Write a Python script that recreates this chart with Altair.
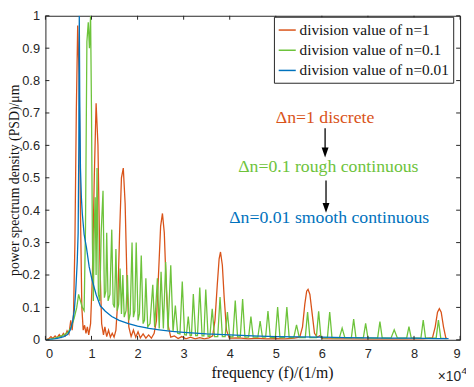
import altair as alt
import pandas as pd

# ---------------- data (x in units of 10^4 1/m) ----------------
orange_x = [0.00, 0.08, 0.12, 0.16, 0.21, 0.25, 0.30, 0.34, 0.39, 0.43, 0.47, 0.51, 0.55, 0.58, 0.61,
            0.64, 0.67, 0.70, 0.73, 0.76, 0.79, 0.82, 0.85, 0.88, 0.91, 0.94, 0.98, 1.02, 1.06, 1.10,
            1.14, 1.18, 1.22, 1.26, 1.29, 1.33, 1.37, 1.41, 1.45, 1.49, 1.53, 1.57, 1.61, 1.65, 1.69,
            1.73, 1.77, 1.81, 1.86, 1.91, 1.96, 2.01, 2.06, 2.12, 2.18, 2.24, 2.30, 2.36, 2.41, 2.46,
            2.50, 2.54, 2.58, 2.62, 2.67, 2.72, 2.80, 2.88, 2.96, 3.05, 3.15, 3.25, 3.35, 3.45, 3.55,
            3.63, 3.68, 3.73, 3.77, 3.80, 3.84, 3.88, 3.93, 3.99, 4.2, 4.4, 4.6, 4.8, 5.0, 5.2, 5.4,
            5.52, 5.58, 5.63, 5.67, 5.70, 5.74, 5.79, 5.84, 5.90, 5.96, 6.02, 6.3, 6.6, 7.0, 7.4, 7.8,
            8.2, 8.40, 8.46, 8.51, 8.55, 8.59, 8.64, 8.69, 8.72]
orange_y = [0.000, 0.004, 0.010, 0.004, 0.012, 0.006, 0.016, 0.008, 0.020, 0.012, 0.028, 0.018, 0.060, 0.030, 0.080,
            0.300, 0.700, 0.970, 0.820, 0.400, 0.100, 0.030, 0.045, 0.020, 0.040, 0.015, 0.050, 0.200, 0.500, 0.730,
            0.600, 0.250, 0.050, 0.015, 0.040, 0.010, 0.030, 0.008, 0.020, 0.008, 0.030, 0.120, 0.330, 0.500, 0.530,
            0.420, 0.180, 0.040, 0.010, 0.030, 0.008, 0.025, 0.006, 0.018, 0.005, 0.015, 0.005, 0.020, 0.060, 0.220,
            0.350, 0.390, 0.330, 0.170, 0.040, 0.008, 0.012, 0.004, 0.010, 0.003, 0.008, 0.003, 0.007, 0.003, 0.006,
            0.012, 0.060, 0.170, 0.250, 0.271, 0.230, 0.130, 0.030, 0.005, 0.006, 0.003, 0.005, 0.003, 0.004, 0.003, 0.005,
            0.008, 0.040, 0.110, 0.150, 0.156, 0.140, 0.080, 0.020, 0.008, 0.013, 0.004, 0.003, 0.003, 0.002, 0.003, 0.002,
            0.003, 0.006, 0.040, 0.085, 0.096, 0.085, 0.040, 0.006, 0.003]

green_x = [0.00, 0.10, 0.20, 0.30, 0.40, 0.50, 0.56, 0.62, 0.68, 0.72, 0.76, 0.80, 0.84, 0.87, 0.90,
           0.93, 0.955, 0.98, 1.00, 1.02, 1.04, 1.06, 1.08, 1.10, 1.12, 1.15, 1.18, 1.21, 1.25, 1.28,
           1.31, 1.33, 1.36, 1.40, 1.44, 1.47, 1.50, 1.53, 1.56, 1.59, 1.62, 1.65, 1.68, 1.71, 1.75,
           1.78, 1.81, 1.84, 1.88, 1.91, 1.94, 1.97, 2.01, 2.04, 2.08, 2.12, 2.15, 2.18, 2.22, 2.27,
           2.33, 2.37, 2.43, 2.47, 2.51, 2.56, 2.61, 2.66, 2.72, 2.77, 2.82, 2.87, 2.92, 2.97, 3.02,
           3.06, 3.10, 3.14, 3.17, 3.21, 3.26, 3.30, 3.35, 3.40, 3.44, 3.48, 3.53, 3.57, 3.62, 3.67,
           3.74, 3.79, 3.84, 3.90, 3.95, 4.00, 4.07, 4.12, 4.17, 4.23, 4.28, 4.33, 4.41, 4.46, 4.51,
           4.61, 4.66, 4.71, 4.78, 4.83, 4.88, 4.99, 5.04, 5.09, 5.19, 5.24, 5.29, 5.39, 5.45, 5.51,
           5.64, 5.69, 5.74, 5.88, 5.93, 5.98, 6.12, 6.17, 6.22, 6.38, 6.44, 6.50, 6.64, 6.69, 6.74,
           6.90, 6.95, 7.00, 7.21, 7.26, 7.31, 7.50, 7.57, 7.64, 7.84, 7.89, 7.94, 8.15, 8.20, 8.25,
           8.48, 8.53, 8.58, 8.70]
green_y = [0.000, 0.002, 0.005, 0.009, 0.015, 0.025, 0.040, 0.065, 0.100, 0.140, 0.120, 0.100, 0.090, 0.350, 0.920,
           0.980, 0.900, 1.000, 0.700, 0.300, 0.120, 0.350, 0.440, 0.200, 0.530, 0.140, 0.120, 0.330, 0.460, 0.130,
           0.150, 0.330, 0.120, 0.140, 0.340, 0.110, 0.100, 0.280, 0.090, 0.110, 0.220, 0.080, 0.200, 0.070, 0.090,
           0.200, 0.060, 0.080, 0.300, 0.070, 0.090, 0.300, 0.060, 0.080, 0.260, 0.050, 0.060, 0.190, 0.040, 0.050,
           0.170, 0.040, 0.190, 0.035, 0.210, 0.035, 0.240, 0.030, 0.230, 0.025, 0.106, 0.020, 0.018, 0.180, 0.016,
           0.015, 0.072, 0.014, 0.014, 0.141, 0.013, 0.013, 0.161, 0.012, 0.012, 0.155, 0.011, 0.011, 0.096, 0.010,
           0.010, 0.132, 0.010, 0.010, 0.086, 0.009, 0.009, 0.121, 0.009, 0.009, 0.126, 0.008, 0.008, 0.072, 0.008,
           0.008, 0.058, 0.008, 0.008, 0.089, 0.007, 0.007, 0.101, 0.007, 0.007, 0.101, 0.007, 0.007, 0.046, 0.007,
           0.007, 0.086, 0.007, 0.007, 0.088, 0.007, 0.006, 0.086, 0.006, 0.006, 0.036, 0.006, 0.006, 0.064, 0.006,
           0.006, 0.051, 0.005, 0.005, 0.056, 0.005, 0.005, 0.031, 0.005, 0.005, 0.041, 0.005, 0.005, 0.061, 0.005,
           0.005, 0.061, 0.005, 0.004]

blue_x = [0.00, 0.10, 0.20, 0.30, 0.40, 0.48, 0.54, 0.59, 0.63, 0.66, 0.69, 0.71, 0.725, 0.735, 0.745,
          0.76, 0.78, 0.80, 0.84, 0.89, 0.95, 1.01, 1.10, 1.19, 1.30, 1.44, 1.60, 1.80, 2.00, 2.25,
          2.47, 2.75, 3.00, 3.50, 4.00, 4.50, 5.00, 5.50, 6.00, 6.50, 7.00, 7.50, 8.00, 8.50, 8.75]
blue_y = [0.000, 0.001, 0.003, 0.006, 0.010, 0.016, 0.030, 0.056, 0.095, 0.156, 0.240, 0.330, 0.600, 1.000, 0.750,
          0.530, 0.440, 0.390, 0.325, 0.285, 0.225, 0.186, 0.140, 0.105, 0.088, 0.072, 0.060, 0.050, 0.042, 0.035,
          0.031, 0.026, 0.023, 0.018, 0.015, 0.012, 0.010, 0.009, 0.008, 0.007, 0.006, 0.005, 0.005, 0.004, 0.004]

series_names = ["division value of n=1", "division value of n=0.1", "division value of n=0.01"]
series_colors = ["#D95319", "#6DC33B", "#0072BD"]

x_ticks = [0, 1, 2, 3, 4, 5, 6, 7, 8, 9]
y_ticks = [0, 0.1, 0.2, 0.3, 0.4, 0.5, 0.6, 0.7, 0.8, 0.9, 1.0]

ann_text = ["Δn=1 discrete", "Δn=0.1 rough continuous", "Δn=0.01 smooth continuous"]
ann_x = [6.07, 6.14, 6.16]
ann_y = [0.684, 0.532, 0.377]

arrow_x = [6.07, 6.09]
arrow_top = [0.653, 0.492]
arrow_head = [0.578, 0.407]

# ---------------- styling ----------------
W, H = 421, 329
SERIF = "Liberation Serif"
SANS = "Liberation Sans"
AX = "#262626"

frames = []
for name, xs, ys in zip(series_names, [orange_x, green_x, blue_x], [orange_y, green_y, blue_y]):
    frames.append(pd.DataFrame({"x": xs, "y": ys, "series": name}))
df = pd.concat(frames, ignore_index=True)


def xenc(field="x"):
    return alt.X(f"{field}:Q",
                 scale=alt.Scale(domain=[0, 9], nice=False, zero=False),
                 axis=alt.Axis(values=x_ticks, format="d", title="frequency (f)/(1/m)",
                               titleX=230, titleY=33, titleBaseline="middle"))


def yenc(field="y"):
    return alt.Y(f"{field}:Q",
                 scale=alt.Scale(domain=[0, 1], nice=False, zero=False),
                 axis=alt.Axis(values=y_ticks, format="~g", title="power spectrum density (PSD)/μm",
                               titleX=-31, titleY=H / 2 + 2, titleBaseline="middle", titleFontSize=14))


color = alt.Color("series:N",
                  scale=alt.Scale(domain=series_names, range=series_colors),
                  legend=alt.Legend(orient="none", legendX=232, legendY=1, title=None,
                                    symbolType="stroke", symbolStrokeWidth=1.5, symbolSize=300,
                                    labelFont=SERIF, labelFontSize=15.5, labelColor="#111111",
                                    labelLimit=300, labelOffset=3, padding=4, rowPadding=2.5,
                                    strokeColor=AX, fillColor="white"))

layers = []
for name in series_names:
    layers.append(
        alt.Chart(df).transform_filter(alt.datum.series == name)
        .mark_line(strokeWidth=1.3, clip=True)
        .encode(x=xenc(), y=yenc(), color=color)
    )

xt = pd.DataFrame({"x": x_ticks})
yt = pd.DataFrame({"y": y_ticks})
ticks = [
    alt.Chart(xt).mark_rule(color=AX, strokeWidth=1).encode(x=xenc(), y=alt.value(H), y2=alt.value(H - 4)),
    alt.Chart(xt).mark_rule(color=AX, strokeWidth=1).encode(x=xenc(), y=alt.value(0), y2=alt.value(4)),
    alt.Chart(yt).mark_rule(color=AX, strokeWidth=1).encode(y=yenc(), x=alt.value(0), x2=alt.value(4)),
    alt.Chart(yt).mark_rule(color=AX, strokeWidth=1).encode(y=yenc(), x=alt.value(W), x2=alt.value(W - 4)),
]

ann_layers = []
for i in range(3):
    d = pd.DataFrame({"x": [ann_x[i]], "y": [ann_y[i]], "t": [ann_text[i]]})
    ann_layers.append(
        alt.Chart(d).mark_text(font=SERIF, fontSize=18, fill=series_colors[i], baseline="middle", align="center")
        .encode(x=xenc(), y=yenc(), text="t:N")
    )

arr = pd.DataFrame({"x": arrow_x, "y": arrow_top, "y2": arrow_head})
arrow_lines = alt.Chart(arr).mark_rule(color="black", strokeWidth=1.3).encode(x=xenc(), y=yenc(), y2="y2:Q")
heads = pd.DataFrame({"x": arrow_x, "y": arrow_head})
arrow_heads = alt.Chart(heads).mark_point(shape="M-0.7,-1L0.7,-1L0,1Z", filled=True, color="black",
                                          opacity=1, size=100).encode(x=xenc(), y=yenc())

exp_base = alt.Chart(pd.DataFrame({"t": ["×10"]})).mark_text(
    font=SANS, fontSize=14, fill=AX, align="right", baseline="middle").encode(
    x=alt.value(W + 1), y=alt.value(H + 38), text="t:N")
exp_pow = alt.Chart(pd.DataFrame({"t": ["4"]})).mark_text(
    font=SANS, fontSize=10, fill=AX, align="left", baseline="middle").encode(
    x=alt.value(W + 1.5), y=alt.value(H + 32), text="t:N")

chart = alt.layer(*layers, *ticks, *ann_layers, arrow_lines, arrow_heads, exp_base, exp_pow).properties(
    width=W, height=H,
    autosize=alt.AutoSizeParams(type="none"),
    padding={"left": 38, "top": 5, "right": 6, "bottom": 44},
).configure_view(stroke=AX, strokeWidth=1).configure_axis(
    grid=False, ticks=False, tickSize=0, domain=False,
    labelFont=SANS, labelFontSize=13, labelColor=AX, labelPadding=7,
    titleFont=SERIF, titleFontSize=16, titleColor="#111111", titleFontWeight="normal",
).configure_axisX(labelPadding=8).configure_axisY(labelPadding=6)

chart.save("out.html", embed_options={"renderer": "svg", "actions": False})
